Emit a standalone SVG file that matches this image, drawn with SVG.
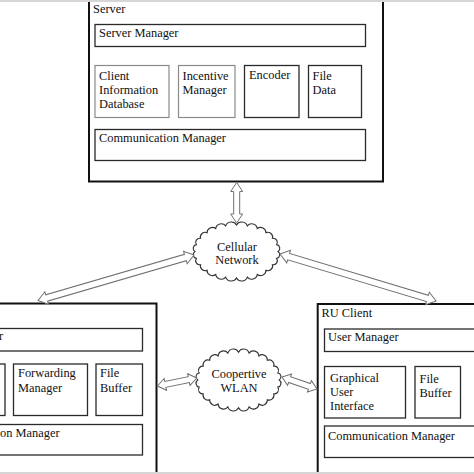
<svg xmlns="http://www.w3.org/2000/svg" width="474" height="474" viewBox="0 0 474 474">
<style>
text{font-family:"Liberation Serif","Times New Roman",serif;font-size:12.4px;fill:#111}
.ctr{text-anchor:middle}
.outer{fill:#fff;stroke:#111;stroke-width:2}
.inner{fill:#fff;stroke:#2a2a2a;stroke-width:1.3}
.light{fill:#fff;stroke:#8a8a8a;stroke-width:1.2}
.arrow{fill:#fff;stroke:#707070;stroke-width:1}
.cloud{fill:#fff;stroke:#333;stroke-width:1.1}
.band{fill:#d6d6d6}
</style>
<defs>
<path id="cloudShape" d="M40,0 A3.7,3.7 0 0 1 38.6,6.7 A4.1,4.1 0 0 1 34.6,13 A4.6,4.6 0 0 1 28.3,18.4 A5.1,5.1 0 0 1 20,22.5 A5.4,5.4 0 0 1 10.4,25.1 A5.7,5.7 0 0 1 0,26 A5.7,5.7 0 0 1 -10.4,25.1 A5.4,5.4 0 0 1 -20,22.5 A5.1,5.1 0 0 1 -28.3,18.4 A4.6,4.6 0 0 1 -34.6,13 A4.1,4.1 0 0 1 -38.6,6.7 A3.7,3.7 0 0 1 -40,0 A3.7,3.7 0 0 1 -38.6,-6.7 A4.1,4.1 0 0 1 -34.6,-13 A4.6,4.6 0 0 1 -28.3,-18.4 A5.1,5.1 0 0 1 -20,-22.5 A5.4,5.4 0 0 1 -10.4,-25.1 A5.7,5.7 0 0 1 0,-26 A5.7,5.7 0 0 1 10.4,-25.1 A5.4,5.4 0 0 1 20,-22.5 A5.1,5.1 0 0 1 28.3,-18.4 A4.6,4.6 0 0 1 34.6,-13 A4.1,4.1 0 0 1 38.6,-6.7 A3.7,3.7 0 0 1 40,0 Z"/>
</defs>
<rect width="474" height="474" fill="#fff"/>

<g id="server">
<rect class="outer" x="89" y="-10" width="294" height="191.5"/>
<text x="93" y="13">Server</text>
<g id="server-manager"><rect class="inner" x="95" y="24.5" width="270.5" height="22"/><text x="99" y="37">Server Manager</text></g>
<g id="client-info-db"><rect class="light" x="95" y="65.5" width="74" height="52"/><text x="99" y="80">Client</text><text x="99" y="94">Information</text><text x="99" y="107.5">Database</text></g>
<g id="incentive-manager"><rect class="light" x="178.5" y="65.5" width="56.5" height="52"/><text x="182.5" y="80">Incentive</text><text x="182.5" y="94">Manager</text></g>
<g id="encoder"><rect class="inner" x="244.5" y="65.5" width="54.5" height="52"/><text x="249" y="78.5">Encoder</text></g>
<g id="file-data"><rect class="inner" x="308.5" y="65.5" width="53" height="52"/><text x="312.5" y="80">File</text><text x="312.5" y="94">Data</text></g>
<g id="server-comm-manager"><rect class="inner" x="95" y="129.5" width="270.5" height="31"/><text x="99" y="141.5">Communication Manager</text></g>
</g>

<g id="left-client">
<rect class="outer" x="-20" y="303.5" width="176.5" height="190"/>
<g id="left-top-box"><rect class="inner" x="-30" y="328.5" width="172.5" height="22.5"/><text x="-1" y="340">r</text></g>
<g id="left-cut-box"><rect class="inner" x="-30" y="364" width="35" height="51.5"/></g>
<g id="forwarding-manager"><rect class="inner" x="13.5" y="364" width="74" height="51.5"/><text x="18" y="377">Forwarding</text><text x="18" y="391.5">Manager</text></g>
<g id="left-file-buffer"><rect class="inner" x="96" y="364" width="46.5" height="51.5"/><text x="100" y="377">File</text><text x="100" y="391.5">Buffer</text></g>
<g id="left-comm-manager"><rect class="inner" x="-30" y="424.5" width="172.5" height="30.5"/><text x="0" y="436.5">on Manager</text></g>
</g>

<g id="ru-client">
<rect class="outer" x="317.7" y="304" width="180" height="190"/>
<text x="321.5" y="317">RU Client</text>
<g id="user-manager"><rect class="inner" x="324.5" y="329" width="170" height="22.5"/><text x="328" y="341">User Manager</text></g>
<g id="gui"><rect class="inner" x="324.5" y="366.5" width="81" height="51.5"/><text x="330" y="381.5">Graphical</text><text x="330" y="395.5">User</text><text x="330" y="409.5">Interface</text></g>
<g id="ru-file-buffer"><rect class="inner" x="415" y="366.5" width="45.5" height="51.5"/><text x="419.5" y="382.5">File</text><text x="419.5" y="396.5">Buffer</text></g>
<g id="ru-comm-manager"><rect class="inner" x="324.5" y="426" width="170" height="31.5"/><text x="328" y="440">Communication Manager</text></g>
</g>

<g id="cellular-network">
<use href="#cloudShape" class="cloud" transform="translate(236.5,251.5) scale(1.04,1.02)"/>
<text class="ctr" x="237" y="251">Cellular</text>
<text class="ctr" x="237" y="264">Network</text>
</g>

<g id="cooperative-wlan">
<use href="#cloudShape" class="cloud" transform="translate(238.5,380) scale(1.02,1.07)"/>
<text class="ctr" x="239" y="377.5">Coopertive</text>
<text class="ctr" x="239" y="391.5">WLAN</text>
</g>

<g id="connectors">
<polygon class="arrow" transform="translate(236.7,182.5) rotate(90)" points="0,0 9,-6 9,-3 31.5,-3 31.5,-6 40.5,0 31.5,6 31.5,3 9,3 9,6"/>
<polygon class="arrow" transform="translate(38,300.5) rotate(-16.26)" points="0,0 9,-6.5 9,-3.3 153.5,-3.3 153.5,-6.5 162.5,0 153.5,6.5 153.5,3.3 9,3.3 9,6.5"/>
<polygon class="arrow" transform="translate(280,254) rotate(16.77)" points="0,0 9,-6.5 9,-3.3 154,-3.3 154,-6.5 163,0 154,6.5 154,3.3 9,3.3 9,6.5"/>
<polygon class="arrow" transform="translate(157.5,386) rotate(-11.6)" points="0,0 8,-6 8,-3 32,-3 32,-6 40,0 32,6 32,3 8,3 8,6"/>
<polygon class="arrow" transform="translate(282,377) rotate(18.9)" points="0,0 8,-6 8,-3 29,-3 29,-6 37,0 29,6 29,3 8,3 8,6"/>
</g>

<rect class="band" x="0" y="0" width="474" height="2"/>
<rect class="band" x="0" y="472" width="474" height="2"/>
</svg>
